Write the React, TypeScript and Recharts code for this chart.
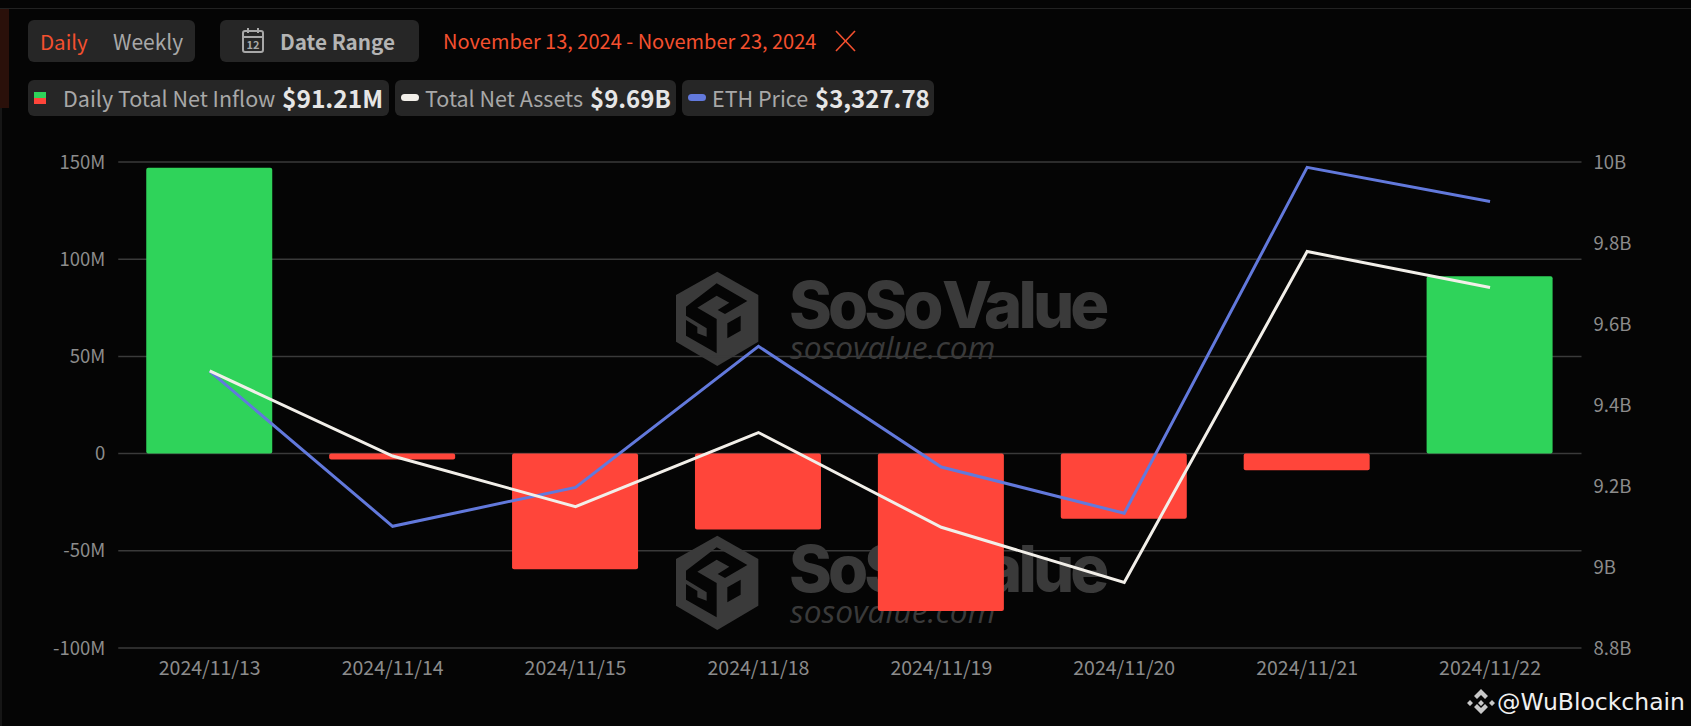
import React from "react";
import {
  ComposedChart,
  Bar,
  Line,
  Cell,
  XAxis,
  YAxis,
  CartesianGrid,
} from "recharts";

const FONT = '"Noto Sans CJK SC", "Noto Sans", sans-serif';

const dates = [
  "2024/11/13",
  "2024/11/14",
  "2024/11/15",
  "2024/11/18",
  "2024/11/19",
  "2024/11/20",
  "2024/11/21",
  "2024/11/22",
];
const netInflow = [147, -3, -59.5, -39, -81, -33.5, -8.6, 91.21];
const netAssets = [9.484, 9.274, 9.149, 9.332, 9.098, 8.962, 9.779, 9.69];
const ethPrice = [3163.8, 3013.7, 3051.3, 3187.8, 3071, 3026.3, 3360.8, 3327.78];

const inflowTicks = [-100, -50, 0, 50, 100, 150];
const assetTicks = [8.8, 9, 9.2, 9.4, 9.6, 9.8, 10];

const rows = dates.map((date, i) => ({
  date,
  inflow: netInflow[i],
  assets: netAssets[i],
  eth: ethPrice[i],
}));

const Pill = ({ x, y, w, h }: any) => (
  <div
    style={{
      position: "absolute",
      left: x,
      top: y,
      width: w,
      height: h,
      background: "#262626",
      borderRadius: 6,
    }}
  />
);

const Label = ({ x, y, size, color, weight, children }: any) => (
  <span
    style={{
      position: "absolute",
      left: x,
      top: y,
      fontSize: size,
      lineHeight: "30px",
      color,
      fontWeight: weight || 400,
      whiteSpace: "nowrap",
    }}
  >
    {children}
  </span>
);

const Watermark = ({ dy }: { dy: number }) => (
  <g transform={`translate(0 ${dy})`} fill="#3a3a3a">
    <g transform="translate(670 265) scale(0.3333)">
      <polygon points="142,20 265,90 265,230 142,303 18,230 18,90" />
      <g fill="#050505">
        <polygon points="140,55 232,108 165,147 143,135 178,113 140,92 82,128 140,162 140,265 48,212 48,165 82,186 82,205 110,215 110,190 48,152 48,125" />
        <polygon points="172,175 212,152 212,197 172,220" />
      </g>
    </g>
    <text x={789} y={328} fontFamily="Inter" fontWeight={800} fontSize={65} letterSpacing={-3.9} wordSpacing={-8}>
      SoSo Value
    </text>
    <text x={790} y={359} fontFamily="Open Sans" fontStyle="italic" fontSize={31.7}>
      sosovalue.com
    </text>
  </g>
);

const App = () => (
  <div
    style={{
      position: "absolute",
      left: 0,
      top: 0,
      width: 1691,
      height: 726,
      overflow: "hidden",
      background: "#050505",
      fontFamily: FONT,
    }}
  >
    <div style={{ position: "absolute", left: 0, top: 8, width: 1691, height: 1, background: "#222" }} />
    <div style={{ position: "absolute", left: 0, top: 9, width: 9, height: 99, background: "#2a100a" }} />
    <div style={{ position: "absolute", left: 0, top: 108, width: 2, height: 618, background: "#161616" }} />

    <Pill x={28} y={20} w={167} h={42} />
    <Label x={40} y={26} size={20.5} color="#f4502f">Daily</Label>
    <Label x={113} y={26} size={21} color="#a8a8a8">Weekly</Label>

    <Pill x={220} y={20} w={199} h={42} />
    <svg style={{ position: "absolute", left: 240, top: 27 }} width={26} height={28} fill="none" stroke="#a8a8a8" strokeWidth={2}>
      <rect x={3} y={4} width={20} height={21} rx={2} />
      <line x1={3} y1={10} x2={23} y2={10} />
      <line x1={8} y1={1} x2={8} y2={6} />
      <line x1={18} y1={1} x2={18} y2={6} />
      <text x={13} y={22} fontSize={11} fontWeight={700} textAnchor="middle" fill="#a8a8a8" stroke="none" fontFamily={FONT}>12</text>
    </svg>
    <Label x={280} y={26} size={20.7} color="#b4b4b4" weight={700}>Date Range</Label>

    <Label x={443} y={26} size={20} color="#f4502f">November 13, 2024 - November 23, 2024</Label>
    <svg style={{ position: "absolute", left: 835, top: 30 }} width={21} height={22} stroke="#f4502f" strokeWidth={1.6}>
      <line x1={1} y1={1} x2={20} y2={21} />
      <line x1={20} y1={1} x2={1} y2={21} />
    </svg>

    <Pill x={28} y={80} w={361} h={36} />
    <div style={{ position: "absolute", left: 34, top: 92, width: 12, height: 6, background: "#2fd35a" }} />
    <div style={{ position: "absolute", left: 34, top: 98, width: 12, height: 6, background: "#ff453a" }} />
    <Label x={63} y={83} size={21.5} color="#a8a8a8">Daily Total Net Inflow</Label>
    <Label x={282} y={83} size={24.5} color="#e6e6e6" weight={700}>$91.21M</Label>

    <Pill x={395} y={80} w={281} h={36} />
    <div style={{ position: "absolute", left: 401, top: 94, width: 18, height: 7, borderRadius: 4, background: "#f2efe9" }} />
    <Label x={425} y={83} size={21.5} color="#a8a8a8">Total Net Assets</Label>
    <Label x={590} y={83} size={24} color="#e6e6e6" weight={700}>$9.69B</Label>

    <Pill x={682} y={80} w={252} h={36} />
    <div style={{ position: "absolute", left: 688, top: 94, width: 18, height: 7, borderRadius: 4, background: "#6279dc" }} />
    <Label x={712} y={83} size={21.5} color="#a8a8a8">ETH Price</Label>
    <Label x={815} y={83} size={24} color="#e6e6e6" weight={700}>$3,327.78</Label>

    <svg style={{ position: "absolute", left: 0, top: 0 }} width={1691} height={726}>
      <Watermark dy={0} />
      <Watermark dy={264} />
    </svg>

    <div style={{ position: "absolute", left: 0, top: 0 }}>
      <ComposedChart
        width={1691}
        height={726}
        data={rows}
        margin={{ top: 162, right: 0, bottom: 0, left: 0 }}
      >
        <CartesianGrid yAxisId="inflow" vertical={false} stroke="#3a3a3a" strokeWidth={1.5} />
        <XAxis
          dataKey="date"
          height={78}
          axisLine={false}
          tickLine={false}
          tickMargin={7}
          tick={{ fill: "#8c8c8c", fontSize: 19.5, fontFamily: FONT }}
        />
        <YAxis
          yAxisId="inflow"
          width={118.25}
          domain={[-100, 150]}
          ticks={inflowTicks}
          tickFormatter={(v: number) => `${v === 0 ? 0 : v + "M"}`}
          axisLine={false}
          tickLine={false}
          tickMargin={7}
          tick={{ fill: "#8c8c8c", fontSize: 18.5, fontFamily: FONT }}
        />
        <YAxis
          yAxisId="assets"
          orientation="right"
          width={109.5}
          domain={[8.8, 10]}
          ticks={assetTicks}
          tickFormatter={(v: number) => `${v}B`}
          axisLine={false}
          tickLine={false}
          tickMargin={6}
          tick={{ fill: "#8c8c8c", fontSize: 18.5, fontFamily: FONT }}
        />
        <YAxis yAxisId="eth" hide width={0} domain={[2896, 3366]} />
        <Bar yAxisId="inflow" dataKey="inflow" barSize={126} radius={2} isAnimationActive={false}>
          {netInflow.map((v, i) => (
            <Cell key={i} fill={v >= 0 ? "#2fd35a" : "#ff453a"} />
          ))}
        </Bar>
        <Line yAxisId="eth" dataKey="eth" stroke="#6279dc" strokeWidth={3} dot={false} isAnimationActive={false} />
        <Line yAxisId="assets" dataKey="assets" stroke="#f2efe9" strokeWidth={3} dot={false} isAnimationActive={false} />
      </ComposedChart>
    </div>

    <svg style={{ position: "absolute", left: 1466, top: 688 }} width={30} height={30} fill="#c8c8c8">
      <path d="M15 1l7 7-3 3-4-4-4 4-3-3zM4 12l3 3-3 3-3-3zM26 12l3 3-3 3-3-3zM15 12l3 3-3 3-3-3zM8 19l3-3 4 4 4-4 3 3-7 7z" />
    </svg>
    <span style={{ position: "absolute", left: 1497, top: 685, fontSize: 23.5, lineHeight: "34px", color: "#f0f0f0", fontFamily: '"DejaVu Sans", sans-serif', whiteSpace: "nowrap" }}>
      @WuBlockchain
    </span>
  </div>
);

export default App;
